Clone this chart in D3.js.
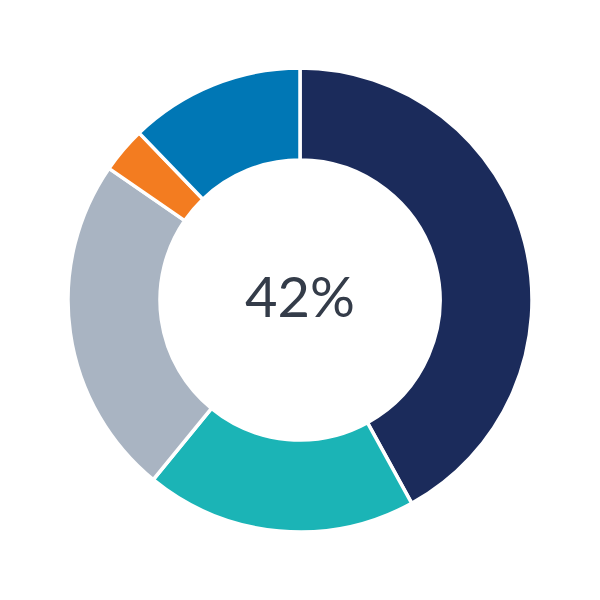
<!DOCTYPE html>
<html>
<head>
<meta charset="utf-8">
<script src="https://cdn.jsdelivr.net/npm/d3@7"></script>
<style>
  body { margin: 0; background: #fff; }
</style>
</head>
<body>
<div id="chart"></div>
<script>
// slice data, clockwise from 12 o'clock
const categories = ["A", "B", "C", "D", "E"];
const values = [42, 18.9, 23.7, 3.2, 12.2];
const colors = ["#1b2b5b", "#1bb4b6", "#a9b4c2", "#f37c20", "#0077b5"];
const centerLabel = "42%";

const width = 600, height = 600;
const outerR = 232, innerR = 140;

const svg = d3.select("#chart")
    .append("svg")
    .attr("width", width)
    .attr("height", height);

const g = svg.append("g")
    .attr("transform", `translate(${width / 2},${height / 2})`);

const pie = d3.pie()
    .sort(null)
    .value(d => d.value);

const arc = d3.arc()
    .innerRadius(innerR)
    .outerRadius(outerR);

const data = categories.map((c, i) => ({ name: c, value: values[i], color: colors[i] }));

g.selectAll(".slice")
    .data(pie(data))
    .enter()
    .append("path")
    .attr("class", "slice")
    .attr("d", arc)
    .attr("fill", d => d.data.color)
    .attr("stroke", "#fff")
    .attr("stroke-width", 3.5);

// centre label
g.append("text")
    .attr("x", 0)
    .attr("y", -3)
    .attr("dy", "0.35em")
    .attr("text-anchor", "middle")
    .style("font-family", "Lato, 'Open Sans', sans-serif")
    .style("font-weight", 400)
    .style("font-size", "56px")
    .style("fill", "#343c49")
    .text(centerLabel);
</script>
</body>
</html>
